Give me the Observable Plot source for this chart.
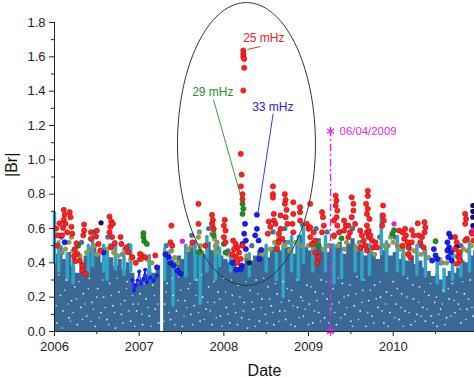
<!DOCTYPE html>
<html><head><meta charset="utf-8">
<script src="https://cdn.jsdelivr.net/npm/d3@7"></script>
<script src="https://cdn.jsdelivr.net/npm/@observablehq/plot@0.6"></script>
<style>body{margin:0;background:#fff}svg{font-family:"Liberation Sans",Arial,sans-serif}</style>
</head><body><div id="chart"></div>
<script>
// ---- axis ticks ----
const yTicks = [0, 0.2, 0.4, 0.6, 0.8, 1.0, 1.2, 1.4, 1.6, 1.8];
const yMinor = [0.1, 0.3, 0.5, 0.7, 0.9, 1.1, 1.3, 1.5, 1.7];
const xTicks = [2006, 2007, 2008, 2009, 2010];
const xMinor = [2006.5, 2007.5, 2008.5, 2009.5, 2010.5];

// ---- dense background series (upper envelope, every 0.05 yr from 2006.0) ----
const envStart = 2006.0, envStep = 0.05;
const envTop = [0.45,0.50,0.42,0.46,0.38,0.34,0.40,0.44,0.47,0.50,0.45,0.40,0.47,0.43,0.38,0.42,0.36,0.40,0.34,0.28,
0.30,0.33,0.36,0.34,0.38,0.40,0.42,0.40,0.36,0.44,0.42,0.46,0.50,0.44,0.48,0.45,0.52,0.47,0.50,0.44,
0.42,0.40,0.42,0.37,0.39,0.43,0.41,0.44,0.47,0.45,0.43,0.49,0.51,0.47,0.53,0.49,0.45,0.51,0.56,0.49,
0.47,0.51,0.54,0.49,0.46,0.51,0.49,0.52,0.45,0.51,0.54,0.47,0.49,0.44,0.51,0.46,0.42,0.47,0.49,0.44,
0.46,0.42,0.45,0.41,0.44,0.39,0.41,0.37,0.35,0.32,0.33,0.30,0.32,0.35,0.34,0.37,0.41,0.40,0.44,0.47];
const gapYears = [2007.265];

// dark-blue points poking above the dense band
const steelPts = [[2006.08,0.55],[2006.32,0.52],[2006.47,0.58],[2006.63,0.55],[2006.88,0.50],[2007.32,0.50],[2007.62,0.56],[2007.82,0.60],
[2008.05,0.47],[2008.33,0.50],[2008.58,0.58],[2008.72,0.60],[2008.93,0.62],[2009.09,0.60],[2009.22,0.58],[2009.37,0.58],[2009.52,0.60],
[2009.70,0.57],[2009.84,0.55],[2010.02,0.55],[2010.18,0.50],[2010.33,0.50],[2010.56,0.40],[2010.80,0.50],[2010.92,0.58]];

// cyan strands: [year, low, high]
const cyanStrands = [[2006.00,0.40,0.69],[2006.05,0.35,0.52],[2006.15,0.30,0.45],[2006.22,0.28,0.42],[2006.40,0.33,0.50],
[2006.45,0.38,0.55],[2006.58,0.35,0.50],[2006.62,0.30,0.47],[2006.72,0.36,0.52],[2006.82,0.33,0.48],[2006.90,0.35,0.50],
[2007.12,0.32,0.44],[2007.30,0.30,0.48],[2007.40,0.15,0.42],[2007.55,0.32,0.50],[2007.66,0.30,0.52],[2007.72,0.16,0.45],
[2007.80,0.35,0.55],[2007.90,0.30,0.50],[2007.95,0.38,0.48],[2008.08,0.35,0.45],[2008.30,0.32,0.45],[2008.50,0.35,0.50],
[2008.62,0.30,0.52],[2008.70,0.20,0.50],[2008.80,0.35,0.55],[2008.88,0.30,0.55],[2008.94,0.40,0.61],[2009.05,0.35,0.52],
[2009.20,0.35,0.55],[2009.30,0.28,0.50],[2009.39,0.31,0.45],[2009.55,0.35,0.50],[2009.63,0.30,0.46],[2009.72,0.33,0.50],
[2009.86,0.45,0.68],[2009.92,0.35,0.52],[2010.05,0.35,0.55],[2010.12,0.33,0.50],[2010.28,0.33,0.50],[2010.38,0.32,0.47],
[2010.52,0.28,0.40],[2010.60,0.23,0.36],[2010.70,0.30,0.46],[2010.80,0.32,0.46],[2010.90,0.35,0.52]];

// light scattered points inside the dense series
const whitePts = [[2006.03,0.05],[2006.07,0.21],[2006.10,0.12],[2006.14,0.30],[2006.17,0.08],[2006.20,0.18],[2006.24,0.26],[2006.27,0.04],[2006.31,0.14],[2006.34,0.22],[2006.38,0.09],[2006.41,0.31],[2006.44,0.17],[2006.48,0.03],[2006.51,0.25],[2006.55,0.11],[2006.58,0.20],[2006.62,0.07],[2006.65,0.28],[2006.69,0.15],[2006.72,0.02],[2006.76,0.23],[2006.79,0.10],[2006.83,0.18],[2006.86,0.29],[2006.90,0.06],[2006.93,0.16],[2006.97,0.12],[2007.01,0.22],[2007.04,0.04],[2007.08,0.19],[2007.12,0.09],[2007.16,0.27],[2007.19,0.13],[2007.23,0.05],
[2007.30,0.16],[2007.33,0.28],[2007.37,0.07],[2007.40,0.21],[2007.44,0.12],[2007.47,0.32],[2007.51,0.03],[2007.54,0.18],[2007.58,0.25],[2007.61,0.10],[2007.65,0.15],[2007.68,0.30],[2007.72,0.06],[2007.75,0.20],[2007.79,0.13],[2007.82,0.26],[2007.86,0.04],[2007.89,0.17],[2007.93,0.23],[2007.96,0.09],
[2008.00,0.31],[2008.03,0.14],[2008.07,0.05],[2008.10,0.21],[2008.14,0.11],[2008.17,0.27],[2008.21,0.08],[2008.24,0.17],[2008.28,0.02],[2008.31,0.24],[2008.35,0.13],[2008.38,0.30],[2008.42,0.06],[2008.45,0.19],[2008.49,0.10],[2008.52,0.26],[2008.56,0.15],[2008.59,0.04],[2008.63,0.22],[2008.66,0.12],[2008.70,0.29],[2008.73,0.07],[2008.77,0.18],[2008.80,0.24],[2008.84,0.03],[2008.87,0.14],[2008.91,0.20],[2008.94,0.09],[2008.98,0.27],
[2009.01,0.16],[2009.05,0.05],[2009.08,0.23],[2009.12,0.11],[2009.15,0.30],[2009.19,0.08],[2009.22,0.19],[2009.26,0.13],[2009.29,0.25],[2009.33,0.04],[2009.36,0.17],[2009.40,0.28],[2009.43,0.10],[2009.47,0.21],[2009.50,0.06],[2009.54,0.15],[2009.57,0.32],[2009.61,0.12],[2009.64,0.24],[2009.68,0.03],[2009.71,0.18],[2009.75,0.09],[2009.78,0.27],[2009.82,0.14],[2009.85,0.20],[2009.89,0.05],[2009.92,0.23],[2009.96,0.11],
[2010.00,0.29],[2010.03,0.16],[2010.07,0.07],[2010.10,0.22],[2010.14,0.12],[2010.17,0.31],[2010.21,0.04],[2010.24,0.19],[2010.28,0.10],[2010.31,0.26],[2010.35,0.14],[2010.38,0.06],[2010.42,0.21],[2010.45,0.09],[2010.49,0.17],[2010.52,0.03],[2010.56,0.13],[2010.59,0.24],[2010.63,0.08],[2010.66,0.19],[2010.70,0.28],[2010.73,0.11],[2010.77,0.16],[2010.80,0.05],[2010.84,0.22],[2010.87,0.13],[2010.91,0.30],[2010.94,0.09]];
const whitePts2 = [[2006.02,0.15],[2006.05,0.33],[2006.09,0.02],[2006.12,0.24],[2006.16,0.16],[2006.19,0.06],[2006.22,0.11],[2006.26,0.19],[2006.29,0.29],[2006.33,0.07],[2006.36,0.16],[2006.40,0.25],[2006.43,0.06],[2006.46,0.13],[2006.50,0.20],[2006.53,0.08],[2006.57,0.30],[2006.60,0.14],[2006.64,0.04],[2006.67,0.21],[2006.71,0.11],[2006.74,0.31],[2006.78,0.16],[2006.81,0.05],[2006.85,0.25],[2006.88,0.12],[2006.92,0.21],[2006.95,0.03],[2006.99,0.16],[2007.03,0.10],[2007.06,0.28],[2007.10,0.14],[2007.14,0.03],[2007.18,0.21],[2007.22,0.16],
[2007.29,0.06],[2007.32,0.23],[2007.35,0.11],[2007.39,0.31],[2007.42,0.04],[2007.46,0.18],[2007.49,0.24],[2007.53,0.09],[2007.56,0.14],[2007.60,0.28],[2007.63,0.04],[2007.67,0.21],[2007.70,0.11],[2007.74,0.33],[2007.77,0.07],[2007.81,0.17],[2007.84,0.12],[2007.88,0.29],[2007.91,0.08],[2007.95,0.19],[2007.98,0.03],
[2008.02,0.23],[2008.05,0.10],[2008.09,0.30],[2008.12,0.16],[2008.16,0.04],[2008.19,0.20],[2008.23,0.12],[2008.26,0.29],[2008.30,0.07],[2008.33,0.17],[2008.37,0.03],[2008.40,0.22],[2008.44,0.14],[2008.47,0.31],[2008.51,0.05],[2008.54,0.19],[2008.58,0.11],[2008.61,0.28],[2008.65,0.06],[2008.68,0.17],[2008.72,0.12],[2008.75,0.25],[2008.79,0.04],[2008.82,0.15],[2008.86,0.30],[2008.89,0.08],[2008.93,0.18],[2008.96,0.13],
[2009.00,0.04],[2009.03,0.26],[2009.07,0.12],[2009.10,0.18],[2009.14,0.06],[2009.17,0.22],[2009.21,0.29],[2009.24,0.05],[2009.28,0.16],[2009.31,0.11],[2009.35,0.31],[2009.38,0.08],[2009.42,0.20],[2009.45,0.14],[2009.49,0.27],[2009.52,0.03],[2009.56,0.22],[2009.59,0.07],[2009.63,0.17],[2009.66,0.30],[2009.70,0.11],[2009.73,0.24],[2009.77,0.05],[2009.80,0.19],[2009.84,0.29],[2009.87,0.12],[2009.91,0.16],[2009.94,0.03],[2009.98,0.21],
[2010.02,0.08],[2010.05,0.25],[2010.09,0.14],[2010.12,0.03],[2010.16,0.20],[2010.19,0.11],[2010.23,0.27],[2010.26,0.06],[2010.30,0.17],[2010.33,0.09],[2010.37,0.23],[2010.40,0.13],[2010.44,0.28],[2010.47,0.05],[2010.51,0.20],[2010.54,0.10],[2010.58,0.16],[2010.61,0.04],[2010.65,0.25],[2010.68,0.09],[2010.72,0.18],[2010.75,0.23],[2010.79,0.13],[2010.82,0.29],[2010.86,0.07],[2010.89,0.19],[2010.93,0.14]];

const olivePts = [[2006.05,0.50],[2006.13,0.48],[2006.17,0.52],[2006.20,0.55],[2006.22,0.47],[2006.30,0.44],[2006.38,0.46],[2006.47,0.50],[2006.50,0.45],[2006.62,0.48],[2006.70,0.46],[2006.75,0.44],[2006.84,0.47],[2006.90,0.42],[2007.03,0.45],[2007.10,0.42],[2007.15,0.40],[2007.35,0.46],[2007.42,0.43],[2007.45,0.40],[2007.58,0.48],[2007.70,0.55],[2007.72,0.50],[2007.74,0.46],[2007.87,0.62],[2007.88,0.58],[2007.89,0.54],[2007.90,0.50],[2007.91,0.46],[2008.05,0.45],[2008.27,0.44],[2008.45,0.45],[2008.55,0.48],[2008.60,0.52],[2008.65,0.55],[2008.72,0.50],[2008.78,0.47],[2008.85,0.52],[2009.00,0.50],[2009.10,0.52],[2009.18,0.48],[2009.30,0.55],[2009.35,0.50],[2009.45,0.52],[2009.57,0.48],[2009.65,0.50],[2009.78,0.45],[2009.90,0.50],[2009.97,0.55],[2010.00,0.52],[2010.08,0.48],[2010.15,0.45],[2010.25,0.47],[2010.33,0.45],[2010.42,0.43],[2010.55,0.42],[2010.63,0.40],[2010.75,0.44],[2010.83,0.48],[2010.92,0.50]];
const grayPts = [[2006.09,0.46],[2006.26,0.45],[2006.43,0.48],[2006.66,0.50],[2006.80,0.45],[2007.00,0.42],[2007.38,0.47],[2007.62,0.50],[2007.71,0.58],[2007.86,0.57],[2007.92,0.52],[2008.12,0.44],[2008.48,0.47],[2008.63,0.50],[2008.76,0.52],[2008.92,0.50],[2009.06,0.48],[2009.24,0.50],[2009.42,0.48],[2009.60,0.52],[2009.74,0.48],[2009.94,0.50],[2010.05,0.50],[2010.20,0.48],[2010.37,0.46],[2010.58,0.40],[2010.78,0.46],[2010.88,0.47]];

const bluePts = [[2006.12,0.52],[2006.58,0.46],[2007.21,0.374],[2007.31,0.45],[2007.35,0.433],[2007.37,0.40],[2007.41,0.384],[2007.45,0.355],[2007.49,0.336],
[2008.25,0.627],[2008.24,0.57],[2008.26,0.53],[2008.22,0.51],[2008.26,0.48],[2008.21,0.384],[2008.20,0.365],[2008.39,0.68],[2008.39,0.598],[2008.37,0.56],[2008.41,0.53],[2008.44,0.476],[2008.42,0.423],[2008.10,0.40],[2008.15,0.36],
[2010.66,0.57],[2010.68,0.55],[2010.64,0.52],[2010.66,0.49],[2010.64,0.472],[2010.68,0.462],[2010.65,0.433],[2010.69,0.413],[2010.48,0.48],[2010.50,0.443],[2010.52,0.423],[2010.46,0.413]];
const blueTrace = [[2006.92,0.30],[2006.94,0.239],[2006.96,0.268],[2006.98,0.297],[2007.00,0.35],[2007.02,0.278],[2007.05,0.307],[2007.07,0.36],[2007.09,0.287],[2007.13,0.316],[2007.17,0.297],[2007.21,0.326]];
const navyPts = [[2006.55,0.633],[2008.30,0.40],[2010.75,0.495],[2010.94,0.734],[2010.94,0.70],[2010.94,0.666],[2010.94,0.617]];
const greenPts = [[2007.05,0.573],[2007.05,0.55],[2007.06,0.526],[2007.09,0.51],[2008.22,0.744],[2008.23,0.715],[2008.22,0.685],[2008.00,0.51],[2008.02,0.46],[2007.70,0.46],[2009.99,0.57],[2010.01,0.59],[2010.50,0.526],[2009.39,0.543],[2006.28,0.50],[2007.88,0.56],[2009.12,0.50]];
const magentaPts = [[2007.51,0.526],[2010.94,0.59],[2010.01,0.627]];

const redPts = [[2006.11,0.709],[2006.18,0.695],[2006.12,0.68],[2006.19,0.666],[2006.11,0.65],[2006.13,0.627],[2006.10,0.604],[2006.20,0.61],[2006.15,0.578],[2006.09,0.56],[2006.21,0.57],
[2006.35,0.623],[2006.35,0.588],[2006.34,0.56],[2006.26,0.514],[2006.24,0.48],[2006.27,0.452],[2006.30,0.413],[2006.33,0.384],[2006.43,0.578],[2006.43,0.54],[2006.50,0.588],[2006.49,0.553],[2006.52,0.51],[2006.54,0.472],
[2006.65,0.67],[2006.67,0.642],[2006.66,0.61],[2006.69,0.627],[2006.65,0.578],[2006.68,0.55],[2006.71,0.514],[2006.67,0.49],[2006.78,0.55],[2006.79,0.51],[2006.85,0.49],[2006.87,0.462],[2006.92,0.433],
[2007.01,0.452],[2007.02,0.423],[2007.07,0.433],[2007.19,0.443],[2006.33,0.355],[2006.37,0.336],[2006.02,0.60],[2006.04,0.56],[2006.06,0.63],[2006.03,0.50],[2006.23,0.44],[2006.25,0.41],[2006.96,0.40],
[2007.70,0.744],[2007.38,0.617],[2007.70,0.627],[2007.86,0.68],[2007.87,0.65],[2007.86,0.627],[2007.88,0.598],[2008.01,0.65],[2008.00,0.617],[2008.02,0.588],[2008.00,0.55],[2008.02,0.52],
[2007.37,0.52],[2007.39,0.50],[2007.63,0.52],[2007.78,0.50],
[2008.11,0.53],[2008.14,0.51],[2008.16,0.49],[2008.12,0.48],[2008.18,0.46],[2008.10,0.45],[2008.14,0.433],[2008.20,0.423],[2008.16,0.40],[2008.22,0.50],[2008.22,0.80],[2008.22,0.77],
[2008.23,1.637],[2008.23,1.617],[2008.23,1.60],[2008.24,1.588],[2008.24,1.536],[2008.23,1.404],[2008.20,1.035],[2008.21,0.914],[2008.20,0.846],[2008.58,0.846],
[2008.58,0.80],[2008.58,0.78],[2008.72,0.80],[2008.73,0.767],[2008.72,0.744],[2008.74,0.709],[2008.73,0.666],[2008.75,0.627],[2008.82,0.753],[2008.82,0.685],[2008.81,0.627],[2008.82,0.578],
[2008.90,0.724],[2008.90,0.695],[2008.90,0.646],[2008.59,0.685],[2008.59,0.646],[2008.61,0.627],[2008.67,0.676],[2008.67,0.598],[2008.65,0.57],[2008.69,0.54],[2008.65,0.53],
[2008.53,0.64],[2008.55,0.61],[2008.52,0.57],[2009.02,0.744],[2008.98,0.627],[2009.00,0.598],[2009.02,0.607],[2009.06,0.578],[2009.02,0.55],[2009.08,0.53],[2009.04,0.51],
[2009.16,0.695],[2009.17,0.666],[2009.18,0.617],[2009.16,0.578],[2009.32,0.792],[2009.33,0.763],[2009.32,0.734],[2009.34,0.705],[2009.33,0.666],[2009.30,0.646],[2009.34,0.617],[2009.36,0.578],[2009.30,0.56],
[2009.42,0.646],[2009.44,0.617],[2009.42,0.588],[2009.51,0.782],[2009.53,0.744],[2009.53,0.705],[2009.51,0.666],[2009.55,0.627],[2009.47,0.617],[2009.49,0.578],[2009.47,0.55],
[2009.61,0.588],[2009.63,0.56],[2009.65,0.53],[2009.69,0.578],[2009.71,0.55],[2009.67,0.50],[2009.61,0.49],[2009.69,0.472],[2009.70,0.82],[2009.70,0.79],
[2009.08,0.46],[2009.12,0.433],[2009.10,0.40],[2008.65,0.52],[2008.63,0.48],
[2009.68,0.744],[2009.70,0.715],[2009.69,0.685],[2009.72,0.656],[2009.69,0.617],[2009.71,0.588],[2009.73,0.56],[2009.75,0.53],[2009.77,0.49],[2009.79,0.52],[2009.81,0.49],
[2009.88,0.734],[2009.88,0.676],[2009.89,0.646],[2009.87,0.617],[2010.07,0.588],[2010.11,0.578],[2010.14,0.598],[2010.15,0.56],[2010.13,0.54],[2010.17,0.52],[2010.11,0.50],[2010.18,0.49],
[2010.22,0.59],[2010.24,0.56],[2010.22,0.52],[2010.29,0.63],[2010.37,0.637],[2010.38,0.607],[2010.37,0.578],[2010.34,0.55],[2010.30,0.56],[2010.32,0.52],[2010.36,0.49],[2010.18,0.452],[2010.20,0.433],
[2010.73,0.55],[2010.75,0.52],[2010.73,0.48],[2010.78,0.462],[2010.77,0.433],[2010.79,0.413],[2010.75,0.394],[2010.85,0.685],[2010.86,0.656],[2010.85,0.627],[2010.87,0.54],[2010.85,0.53],[2010.93,0.57],[2010.95,0.53]];

// ---- annotations ----
const freqLabels = [
  {label: "25 mHz", x: 2008.228, y: 1.71, color: "#e8201f"},
  {label: "29 mHz", x: 2007.626, y: 1.394, color: "#2a8a2a"},
  {label: "33 mHz", x: 2008.334, y: 1.306, color: "#2323e0"}];
const freqLeaders = [
  {x1: 2008.432, y1: 1.660, x2: 2008.279, y2: 1.643, color: "#e8201f"},
  {x1: 2007.877, y1: 1.351, x2: 2008.208, y2: 0.775, color: "#2a8a2a"},
  {x1: 2008.582, y1: 1.268, x2: 2008.405, y2: 0.695, color: "#2323e0"}];
const ellipse = {cx: 2008.267, cy: 1.092, rx: 0.8146, ry: 0.824};
const event = {x: 2009.26, top: 1.167, label: "06/04/2009"};

// ---- build ----
const envData = envTop.map((v, i) => ({x: envStart + i * envStep, y: v}));
envData.push({x: 2011.0, y: envTop[envTop.length - 1]});
const ellPts = d3.range(0, 361, 2).map(a => ({
  x: ellipse.cx + ellipse.rx * Math.cos(a * Math.PI / 180),
  y: ellipse.cy + ellipse.ry * Math.sin(a * Math.PI / 180)}));
const magenta = "#e31fe3";
const X = d => d[0], Y = d => d[1];

const chart = Plot.plot({
  width: 474, height: 378,
  marginLeft: 54, marginRight: 0, marginTop: 22, marginBottom: 47,
  x: {domain: [2006, 2010.96]},
  y: {domain: [0, 1.8]},
  style: {fontFamily: "'Liberation Sans', Arial, sans-serif", fontSize: "13px", color: "#222", background: "white"},
  marks: [
    Plot.areaY(envData, {x: "x", y: "y", curve: "step-after", fill: "#3b6995"}),
    Plot.dot(steelPts, {x: X, y: Y, r: 2.6, fill: "#44719e"}),
    Plot.ruleX(cyanStrands, {x: X, y1: Y, y2: d => d[2], stroke: "#2ea6c8", strokeWidth: 3.5, strokeLinecap: "round"}),
    Plot.dot(whitePts, {x: X, y: Y, r: 0.9, fill: "#dce8f4"}),
    Plot.dot(whitePts2, {x: X, y: Y, r: 0.8, fill: "#c8dcee"}),
    Plot.ruleX(gapYears, {y1: 0, y2: 0.5, stroke: "white", strokeWidth: 3}),
    Plot.dot(grayPts, {x: X, y: Y, r: 2.6, fill: "#7d8b84"}),
    Plot.dot(olivePts, {x: X, y: Y, r: 2.6, fill: "#8e9b4f"}),
    Plot.line(blueTrace, {x: X, y: Y, stroke: "#1a1aff", strokeWidth: 1.2}),
    Plot.dot(blueTrace, {x: X, y: Y, r: 2, fill: "#1a1aff"}),
    Plot.dot(bluePts, {x: X, y: Y, r: 2.6, fill: "#1a1aff", stroke: "#0000a0", strokeWidth: 0.5}),
    Plot.dot(navyPts, {x: X, y: Y, r: 2.6, fill: "#101070"}),
    Plot.dot(greenPts, {x: X, y: Y, r: 2.6, fill: "#1f8f1f", stroke: "#106010", strokeWidth: 0.5}),
    Plot.dot(magentaPts, {x: X, y: Y, r: 2.6, fill: "#e020e0"}),
    Plot.dot(redPts, {x: X, y: Y, r: 2.6, fill: "#ff2222", stroke: "#c80000", strokeWidth: 0.6}),
    Plot.line(ellPts, {x: "x", y: "y", stroke: "#333", strokeWidth: 1}),
    Plot.link(freqLeaders, {x1: "x1", y1: "y1", x2: "x2", y2: "y2", stroke: "color", strokeWidth: 0.9}),
    Plot.text(freqLabels, {x: "x", y: "y", text: "label", fill: "color", textAnchor: "start", fontSize: 12}),
    Plot.ruleX([event], {x: "x", y1: 0, y2: "top", stroke: magenta, strokeWidth: 1.4, strokeDasharray: "7,3,2,3"}),
    Plot.dot([event], {x: "x", y: "top", symbol: "asterisk", r: 4, stroke: magenta, strokeWidth: 1.3}),
    Plot.dot([event], {x: "x", y: 0, symbol: "asterisk", r: 4, stroke: magenta, strokeWidth: 1.3}),
    Plot.text([event], {x: "x", y: "top", text: "label", dx: 9, textAnchor: "start", fill: magenta, fontSize: 11.4}),
    Plot.axisY({ticks: yTicks, tickFormat: d => d.toFixed(1), tickSize: 5, tickPadding: 4, fontSize: 13, label: null, stroke: "#222"}),
    Plot.axisY({ticks: yMinor, tickFormat: () => "", tickSize: 3, label: null, stroke: "#222"}),
    Plot.axisX({ticks: xTicks, tickFormat: d => String(d), tickSize: 5, tickPadding: 5, fontSize: 13, label: null, stroke: "#222"}),
    Plot.axisX({ticks: xMinor, tickFormat: () => "", tickSize: 3, label: null, stroke: "#222"}),
    Plot.ruleX([2006], {stroke: "#222"}),
    Plot.ruleY([0], {stroke: "#222"}),
    Plot.text(["|Br|"], {frameAnchor: "left", dx: -43, rotate: -90, fontSize: 16, fill: "#111"}),
    Plot.text(["Date"], {frameAnchor: "bottom", dy: 44, lineAnchor: "bottom", fontSize: 16, fill: "#111"})
  ]
});
document.getElementById("chart").appendChild(chart);
</script>
</body></html>
